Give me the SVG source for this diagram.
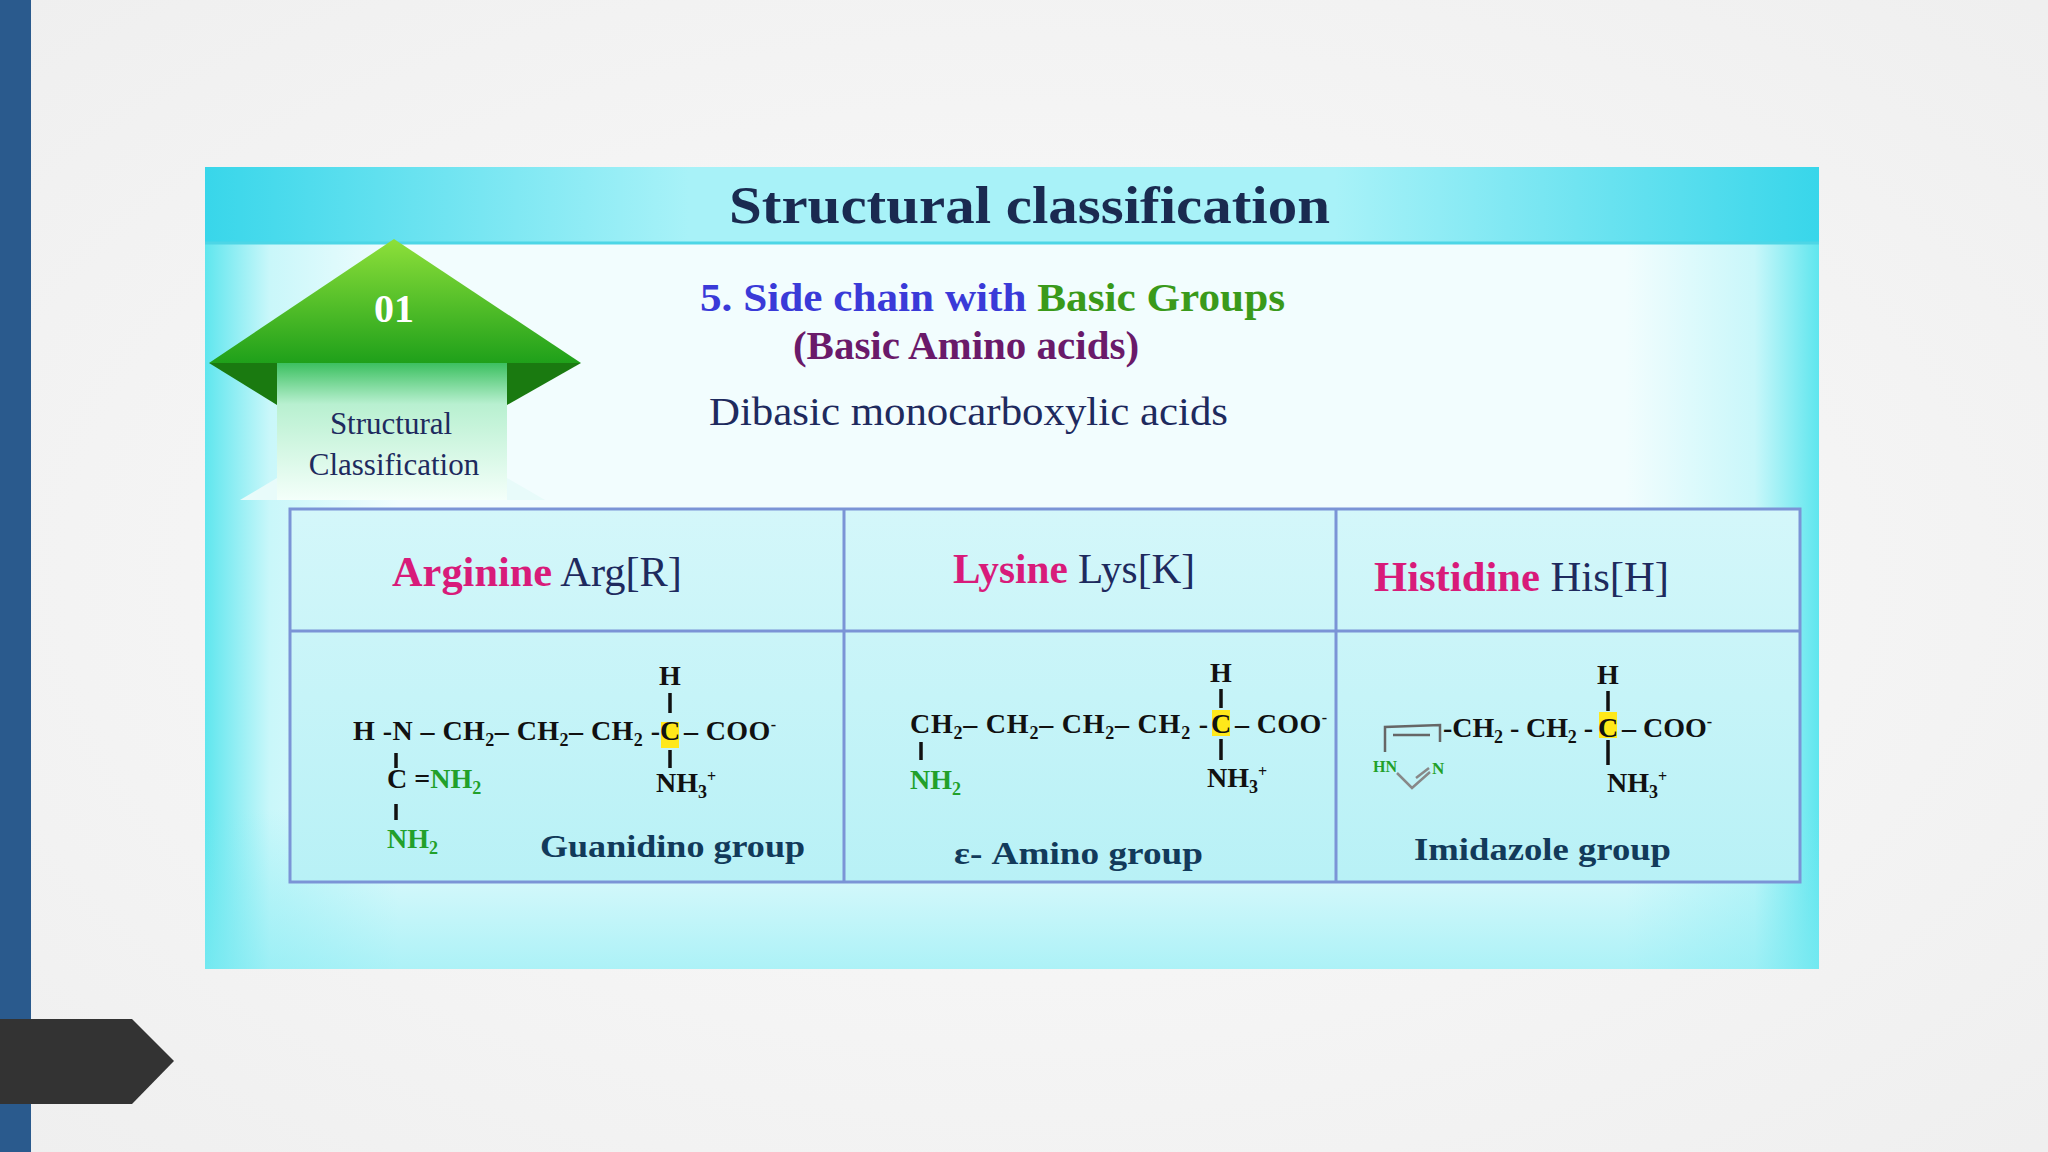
<svg xmlns="http://www.w3.org/2000/svg" width="2048" height="1152" viewBox="0 0 2048 1152">
<defs>
<radialGradient id="pg" cx="0.5" cy="0.5" r="0.7"><stop offset="0" stop-color="#fbfbfb"/><stop offset="1" stop-color="#efefef"/></radialGradient>
<linearGradient id="panH" x1="0" x2="1" y1="0" y2="0"><stop offset="0" stop-color="#5fe6ee"/><stop offset="0.04" stop-color="#c9f7fa"/><stop offset="0.12" stop-color="#f2fdfe"/><stop offset="0.88" stop-color="#f2fdfe"/><stop offset="0.96" stop-color="#c9f7fa"/><stop offset="1" stop-color="#5fe6ee"/></linearGradient>
<linearGradient id="panV" x1="0" x2="0" y1="0" y2="1"><stop offset="0.8" stop-color="#7eeaf2" stop-opacity="0"/><stop offset="1" stop-color="#7eeaf2" stop-opacity="0.6"/></linearGradient>
<linearGradient id="tb" x1="0" x2="1"><stop offset="0" stop-color="#38d6ea"/><stop offset="0.3" stop-color="#a8f2f8"/><stop offset="0.7" stop-color="#a8f2f8"/><stop offset="1" stop-color="#38d6ea"/></linearGradient>
<linearGradient id="cell" x1="0" x2="0" y1="0" y2="1"><stop offset="0" stop-color="#d4f7fa"/><stop offset="1" stop-color="#b8f1f6"/></linearGradient>
<linearGradient id="gr" x1="0" x2="0" y1="0" y2="1"><stop offset="0" stop-color="#8ee03a"/><stop offset="1" stop-color="#1fa01a"/></linearGradient>
<linearGradient id="gb" x1="0" x2="0" y1="0" y2="1"><stop offset="0" stop-color="#3cc060"/><stop offset="0.3" stop-color="#b8f0d0"/><stop offset="1" stop-color="#f4fffa"/></linearGradient>
<style>
.t{font-family:"Liberation Serif",serif;font-weight:bold}
.c{font-family:"Liberation Serif",serif;font-weight:bold;font-size:28px;fill:#111}
.g{fill:#22a02a}
.hd{font-family:"Liberation Serif",serif;font-size:42px;fill:#1e2a5e}
.nm{font-weight:bold;fill:#d81b7a}
.grp{font-family:"Liberation Serif",serif;font-weight:bold;font-size:32px;fill:#123a5a}
.bd{stroke:#111;stroke-width:3.5}
.hl{fill:#ffe81a}
.tl{fill:none;stroke:#7b94d6;stroke-width:3}
</style>
</defs>
<rect width="2048" height="1152" fill="url(#pg)"/>
<rect x="0" y="0" width="31" height="1152" fill="#2a5a8d"/>
<polygon points="0,1019 132,1019 174,1061 132,1104 0,1104" fill="#333"/>

<g id="panel">
<rect x="205" y="167" width="1614" height="802" fill="url(#panH)"/>
<rect x="205" y="167" width="1614" height="802" fill="url(#panV)"/>
<rect x="205" y="167" width="1614" height="76" fill="url(#tb)"/>
<line x1="205" y1="243" x2="1819" y2="243" stroke="#4dd6e6" stroke-width="3"/>
<text x="729" y="223" class="t" font-size="53" fill="#1a2a50" textLength="601" lengthAdjust="spacingAndGlyphs">Structural classification</text>
</g>

<g id="badge">
<polygon points="240,500 277,478 507,478 545,500" fill="#e8fbfa"/>
<rect x="277" y="363" width="230" height="137" fill="url(#gb)"/>
<polygon points="209,363 277,363 277,405" fill="#1a7a10"/>
<polygon points="507,363 581,363 507,405" fill="#1a7a10"/>
<polygon points="394,239 581,363 209,363" fill="url(#gr)"/>
<text x="394" y="322" text-anchor="middle" class="t" font-size="40" fill="#fff">01</text>
<text x="391" y="434" text-anchor="middle" font-family="Liberation Serif,serif" font-size="31" fill="#1e2a5e">Structural</text>
<text x="394" y="475" text-anchor="middle" font-family="Liberation Serif,serif" font-size="31" fill="#1e2a5e">Classification</text>
</g>

<g id="heading">
<text x="700" y="311" class="t" font-size="41" textLength="585" lengthAdjust="spacingAndGlyphs"><tspan fill="#3a3ad8">5. Side chain with </tspan><tspan fill="#3a9a1a">Basic Groups</tspan></text>
<text x="966" y="359" text-anchor="middle" class="t" font-size="41" fill="#6a1a6a">(Basic Amino acids)</text>
<text x="709" y="425" font-family="Liberation Serif,serif" font-size="41" fill="#1e2a5e" textLength="519" lengthAdjust="spacingAndGlyphs">Dibasic monocarboxylic acids</text>
</g>

<g id="table">
<rect x="290" y="509" width="1510" height="373" fill="url(#cell)"/>
<rect x="290" y="509" width="1510" height="373" class="tl"/>
<line x1="290" y1="631" x2="1800" y2="631" class="tl"/>
<line x1="844" y1="509" x2="844" y2="882" class="tl"/>
<line x1="1336" y1="509" x2="1336" y2="882" class="tl"/>
</g>

<g id="arginine">
<text x="392" y="586" class="hd" textLength="290" lengthAdjust="spacingAndGlyphs"><tspan class="nm">Arginine</tspan> Arg[R]</text>
<rect x="661" y="722" width="18" height="26" class="hl"/>
<text x="670" y="685" class="c" text-anchor="middle">H</text>
<line x1="670" y1="693" x2="670" y2="713" class="bd"/>
<line x1="670" y1="750" x2="670" y2="768" class="bd"/>
<text x="353" y="740" class="c" textLength="307">H -N – CH<tspan font-size="18" dy="6">2</tspan><tspan dy="-6">– CH</tspan><tspan font-size="18" dy="6">2</tspan><tspan dy="-6">– CH</tspan><tspan font-size="18" dy="6">2</tspan><tspan dy="-6"> -</tspan></text>
<text x="670" y="740" class="c" text-anchor="middle">C</text>
<text x="684" y="740" class="c" textLength="92">– COO<tspan font-size="16" dy="-10">-</tspan></text>
<line x1="396" y1="753" x2="396" y2="768" class="bd"/>
<text x="387" y="788" class="c">C =<tspan class="g">NH<tspan font-size="18" dy="6">2</tspan></tspan></text>
<line x1="396" y1="804" x2="396" y2="820" class="bd"/>
<text x="387" y="848" class="c g">NH<tspan font-size="18" dy="6">2</tspan></text>
<text x="656" y="792" class="c">NH<tspan font-size="18" dy="6">3</tspan><tspan font-size="16" dy="-16">+</tspan></text>
<text x="540" y="857" class="grp" textLength="265" lengthAdjust="spacingAndGlyphs">Guanidino group</text>
</g>

<g id="lysine">
<text x="953" y="583" class="hd" textLength="242" lengthAdjust="spacingAndGlyphs"><tspan class="nm">Lysine</tspan> Lys[K]</text>
<rect x="1212" y="710" width="18" height="26" class="hl"/>
<text x="1221" y="682" class="c" text-anchor="middle">H</text>
<line x1="1221" y1="689" x2="1221" y2="708" class="bd"/>
<line x1="1221" y1="739" x2="1221" y2="760" class="bd"/>
<text x="910" y="733" class="c" textLength="298">CH<tspan font-size="18" dy="6">2</tspan><tspan dy="-6">– CH</tspan><tspan font-size="18" dy="6">2</tspan><tspan dy="-6">– CH</tspan><tspan font-size="18" dy="6">2</tspan><tspan dy="-6">– CH</tspan><tspan font-size="18" dy="6">2</tspan><tspan dy="-6"> -</tspan></text>
<text x="1221" y="733" class="c" text-anchor="middle">C</text>
<text x="1235" y="733" class="c" textLength="92">– COO<tspan font-size="16" dy="-10">-</tspan></text>
<line x1="921" y1="742" x2="921" y2="760" class="bd"/>
<text x="910" y="789" class="c g">NH<tspan font-size="18" dy="6">2</tspan></text>
<text x="1207" y="787" class="c">NH<tspan font-size="18" dy="6">3</tspan><tspan font-size="16" dy="-16">+</tspan></text>
<text x="954" y="864" class="grp" textLength="249" lengthAdjust="spacingAndGlyphs">ε- Amino group</text>
</g>

<g id="histidine">
<text x="1374" y="591" class="hd" textLength="295" lengthAdjust="spacingAndGlyphs"><tspan class="nm">Histidine</tspan> His[H]</text>
<rect x="1599" y="712" width="18" height="26" class="hl"/>
<text x="1608" y="684" class="c" text-anchor="middle">H</text>
<line x1="1608" y1="691" x2="1608" y2="711" class="bd"/>
<line x1="1608" y1="740" x2="1608" y2="765" class="bd"/>
<polyline points="1385,752 1385,727 1440,725 1440,742" fill="none" stroke="#666" stroke-width="2.5"/>
<line x1="1393" y1="735" x2="1430" y2="735" stroke="#666" stroke-width="2.5"/>
<polyline points="1397,773 1412,788 1430,772" fill="none" stroke="#888" stroke-width="2.5"/>
<line x1="1416" y1="778" x2="1429" y2="768" stroke="#888" stroke-width="2.5"/>
<text x="1373" y="772" font-family="Liberation Serif,serif" font-weight="bold" font-size="16" fill="#22a02a">HN</text>
<text x="1432" y="774" font-family="Liberation Serif,serif" font-weight="bold" font-size="17" fill="#22a02a">N</text>
<text x="1443" y="737" class="c" textLength="150">-CH<tspan font-size="18" dy="6">2</tspan><tspan dy="-6"> - CH</tspan><tspan font-size="18" dy="6">2</tspan><tspan dy="-6"> -</tspan></text>
<text x="1608" y="737" class="c" text-anchor="middle">C</text>
<text x="1622" y="737" class="c" textLength="90">– COO<tspan font-size="16" dy="-10">-</tspan></text>
<text x="1607" y="792" class="c">NH<tspan font-size="18" dy="6">3</tspan><tspan font-size="16" dy="-16">+</tspan></text>
<text x="1414" y="860" class="grp" textLength="257" lengthAdjust="spacingAndGlyphs">Imidazole group</text>
</g>
</svg>
